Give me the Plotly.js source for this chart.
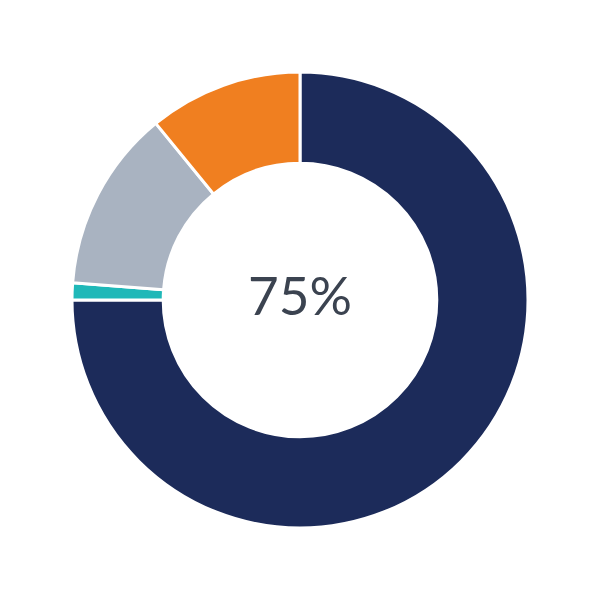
<!DOCTYPE html>
<html>
<head>
<meta charset="utf-8">
<script src="https://cdn.plot.ly/plotly-3.0.1.min.js"></script>
<style>html,body{margin:0;padding:0;background:#fff;}#chart{width:600px;height:600px;}</style>
</head>
<body>
<div id="chart"></div>
<script>
const labels = ["A", "B", "C", "D"];
const values = [75, 1.2, 12.9, 10.9];
const colors = ["#1c2b5a", "#1fb8b8", "#a9b3c1", "#f07f20"];
const centerText = "75%";

Plotly.newPlot("chart", [{
  type: "pie",
  labels: labels,
  values: values,
  hole: 0.6,
  sort: false,
  direction: "clockwise",
  rotation: 0,
  textinfo: "none",
  hoverinfo: "none",
  marker: {colors: colors, line: {color: "#ffffff", width: 3}}
}], {
  width: 600, height: 600,
  margin: {l: 72, r: 72, t: 72, b: 72},
  showlegend: false,
  paper_bgcolor: "#ffffff",
  annotations: [{
    text: centerText, x: 0.5, y: 0.5, xref: "paper", yref: "paper",
    showarrow: false, yshift: 6, font: {family: "Lato", size: 53, color: "#3b4350"}
  }]
}, {staticPlot: true});
</script>
</body>
</html>
